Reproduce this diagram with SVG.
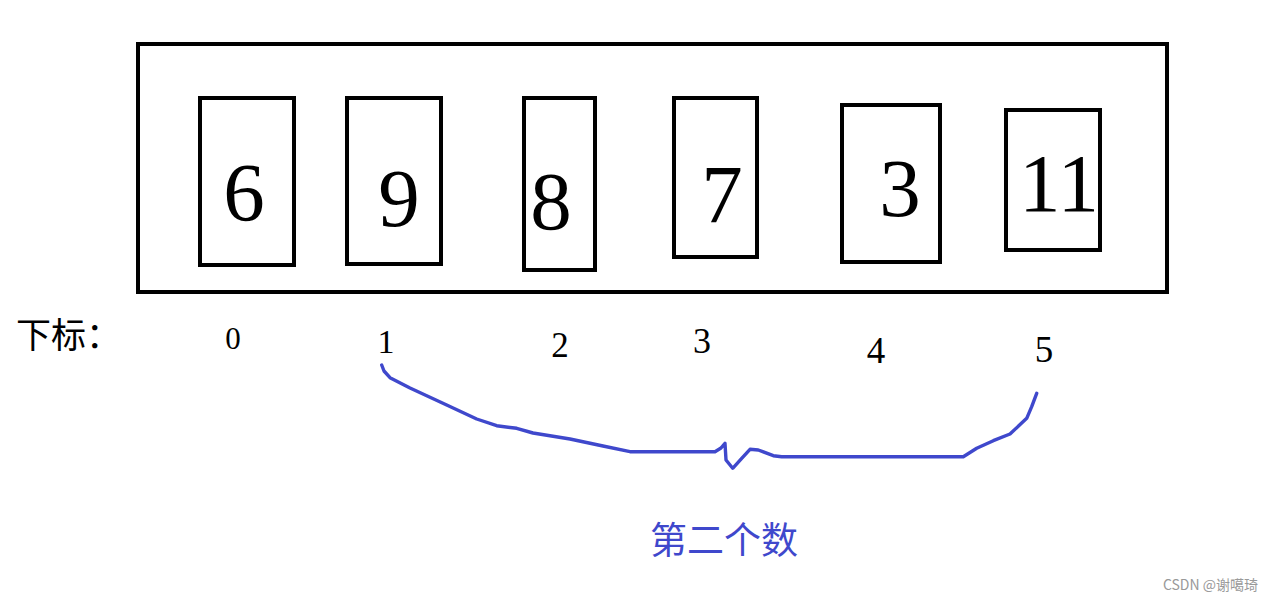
<svg xmlns="http://www.w3.org/2000/svg" width="1273" height="601" viewBox="0 0 1273 601">
<style>
.box{fill:none;stroke:#000;stroke-width:4}
.num{font-family:"Liberation Serif","DejaVu Serif",serif;font-size:83px;fill:#000;text-anchor:middle}
.idx{font-family:"Liberation Serif","DejaVu Serif",serif;fill:#000;text-anchor:middle}
.cjk{font-family:"Noto Sans CJK SC",sans-serif}
.brace{fill:none;stroke:#3f48cc;stroke-width:3.4;stroke-linecap:round;stroke-linejoin:round}
</style>
<rect width="1273" height="601" fill="#fff"/>
<g id="array"><rect class="box" x="138" y="44" width="1029" height="248"/></g>
<g id="n0"><rect class="box" x="200" y="98" width="94" height="167"/><text class="num" x="244" y="220">6</text></g>
<g id="n1"><rect class="box" x="347" y="98" width="94" height="166"/><text class="num" x="399" y="226">9</text></g>
<g id="n2"><rect class="box" x="524" y="98" width="71" height="172"/><text class="num" x="551" y="229">8</text></g>
<g id="n3"><rect class="box" x="674" y="98" width="83" height="159"/><text class="num" x="722" y="222">7</text></g>
<g id="n4"><rect class="box" x="842" y="105" width="98" height="157"/><text class="num" x="900" y="216">3</text></g>
<g id="n5"><rect class="box" x="1006" y="110" width="94" height="140"/><text class="num" x="1059" y="211">11</text></g>
<g id="labels">
<text class="cjk" x="16" y="348" font-size="35" fill="#000">下标：</text>
<text class="idx" x="233" y="349" font-size="31">0</text>
<text class="idx" x="386" y="353" font-size="34">1</text>
<text class="idx" x="560" y="357" font-size="35">2</text>
<text class="idx" x="702" y="353" font-size="36">3</text>
<text class="idx" x="876" y="363" font-size="37">4</text>
<text class="idx" x="1044" y="362" font-size="37">5</text>
</g>
<g id="connectors">
<path class="brace" d="M381.7,365 L384,371 L390,377.7 L410,388 L446.7,405 L476.7,419 L496.7,425.7 L516.7,428.3 L533,433 L570,439 L603,446 L630,451.7 L670,451.7 L715,451.7 L721,448 L725,443.3 L726,460 L732.7,468.3 L741.7,458.3 L750,449.3 L758.3,450 L773.3,455.7 L781.7,456.7 L963.3,456.7 L976.7,448.3 L993.3,440.7 L1010,434 L1026.7,418.3 L1031.7,406.7 L1036.7,393.3"/>
</g>
<g id="caption"><text class="cjk" x="650" y="554" font-size="37" fill="#3f48cc">第二个数</text></g>
<text class="cjk" x="1258" y="590" font-size="14" fill="#999" text-anchor="end">CSDN @谢噶琦</text>
</svg>
